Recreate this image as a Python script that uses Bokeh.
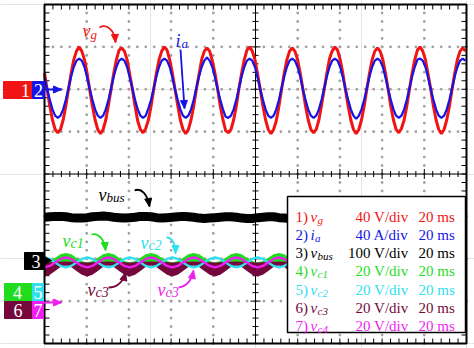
import numpy as np
from bokeh.plotting import figure
from bokeh.models import Range1d
from bokeh.core.properties import value
from bokeh.embed import file_html
from bokeh.resources import INLINE

# ---------------- data ----------------
T_TOP = np.arange(159) * 1.2625     # ms, sample instants (period ~20.2 ms)
VG = [15, 0, -16, -29, -38, -41, -38, -29, -16, 0, 15, 28, 36, 40, 36, 28,
      15, -1, -16, -29, -38, -42, -38, -29, -15, 0, 15, 28, 37, 39, 36, 28,
      14, 0, -16, -30, -38, -41, -37, -29, -16, 0, 15, 28, 36, 40, 37, 28,
      15, 0, -15, -29, -38, -42, -38, -29, -16, 0, 14, 28, 36, 39, 36, 27,
      15, 0, -16, -29, -39, -41, -38, -29, -16, 1, 15, 28, 37, 40, 36, 28,
      14, 0, -16, -29, -38, -42, -38, -30, -16, 0, 15, 28, 36, 39, 36, 28,
      15, 0, -16, -29, -38, -41, -38, -29, -15, 0, 15, 29, 36, 40, 37, 28,
      15, -1, -16, -29, -38, -42, -38, -29, -16, 0, 15, 28, 36, 39, 36, 28,
      15, 0, -16, -29, -38, -41, -37, -29, -16, 0, 15, 28, 37, 40, 36, 28,
      14, 0, -16, -29, -38, -42, -38, -29, -16, 0, 15, 28, 36, 39, 36]
IA = [11, 0, -10, -19, -25, -27, -25, -19, -10, 1, 12, 21, 27, 29, 27, 21,
      11, 0, -10, -19, -25, -27, -25, -19, -10, 1, 12, 21, 27, 29, 27, 21,
      11, 1, -10, -19, -25, -27, -25, -18, -10, 1, 12, 21, 27, 29, 27, 21,
      11, 0, -10, -19, -25, -27, -25, -19, -10, 1, 12, 21, 27, 30, 27, 21,
      11, 0, -10, -19, -26, -27, -25, -19, -10, 1, 12, 21, 27, 29, 27, 21,
      11, 0, -10, -19, -25, -27, -25, -19, -10, 1, 12, 21, 27, 29, 27, 21,
      12, 0, -10, -19, -25, -27, -25, -19, -10, 1, 12, 21, 27, 29, 27, 21,
      11, 0, -10, -19, -25, -28, -25, -19, -10, 1, 12, 21, 27, 29, 27, 21,
      11, 0, -10, -19, -25, -27, -25, -19, -10, 1, 12, 21, 28, 29, 27, 21,
      11, 0, -10, -19, -25, -27, -25, -19, -10, 1, 12, 21, 27, 29, 27]

T_BOT = np.arange(80) * 2.525       # ms
VBUS = [103, 104, 105, 105, 104, 102, 101, 101, 102, 104, 105, 106, 105, 103, 102, 101,
        102, 103, 105, 105, 104, 102, 101, 102, 103, 104, 105, 104, 103, 101, 100, 101,
        102, 103, 104, 104, 103, 101, 100, 100, 102, 103, 104, 104, 102, 101, 100, 101,
        102, 104, 104, 103, 102, 100, 100, 101, 102, 103, 104, 103, 102, 101, 100, 101,
        103, 104, 104, 103, 101, 100, 100, 101, 103, 104, 104, 103, 102, 101, 100, 101]
# noisy traces: upper / lower envelope of the band (V)
VC1_HI = [14.2, 14.9, 16.5, 18.1, 18.7, 18.1, 16.5, 14.9] * 10
VC1_LO = [12.4, 12.5, 12.9, 13.3, 13.5, 13.3, 12.9, 12.5] * 10
VC3_HI = [22.2, 22.3, 22.5, 22.6, 22.7, 22.6, 22.5, 22.3] * 10
VC3_LO = [15.6, 16.4, 18.2, 20.1, 20.8, 20.1, 18.2, 16.4] * 10
VC2 = [16.6, 15.9, 14.2, 12.6, 11.9, 12.6, 14.2, 15.9] * 10
VC4 = [19.9, 20.6, 22.2, 23.9, 24.6, 23.9, 22.2, 20.6] * 10

LEG_NUM = ["1)", "2)", "3)", "4)", "5)", "6)", "7)"]
LEG_SYM = ["v", "i", "v", "v", "v", "v", "v"]
LEG_SUB = ["g", "a", "bus", "c1", "c2", "c3", "c4"]
LEG_SCALE = ["40 V/div", "40 A/div", "100 V/div", "20 V/div", "20 V/div", "20 V/div", "20 V/div"]
LEG_TIME = ["20 ms"] * 7

# ---------------- styling / geometry ----------------
RED, BLUE, BLACK = "#f01414", "#1414e6", "#000000"
GREEN, CYAN, MAROON, MAG = "#1fdc1f", "#2fe0ee", "#74083c", "#f01ef0"
LEG_COLORS = [RED, BLUE, BLACK, GREEN, CYAN, MAROON, MAG]
SERIF = value("Liberation Serif")

W, H = 474, 348
FL, FR, FT, FB = 44, 466, 4, 343
SX = (FR - FL) / 200.0      # px per ms
SY = (FB - FT) / 8.0        # px per division
YC = (FT + FB) / 2.0


def X(px):
    return (px - FL) / SX


def Y(py):
    return (YC - py) / SY


p = figure(width=W, height=H, output_backend="svg", toolbar_location=None,
           x_range=Range1d(-FL / SX, 200 + (W - FR) / SX),
           y_range=Range1d(-4 - (H - FB) / SY, 4 + FT / SY),
           x_axis_location=None, y_axis_location=None, min_border=0,
           outline_line_color=None, background_fill_color="white",
           border_fill_color="white")

# graticule dots
gx, gy = [], []
for j in range(1, 10):
    if j == 5:
        continue
    ys = np.arange(-4, 4.001, 0.2)
    gx += [20 * j] * len(ys)
    gy += list(ys)
for i in range(-3, 4):
    if i == 0:
        continue
    xs = np.arange(0, 200.001, 4)
    gx += list(xs)
    gy += [i] * len(xs)
p.scatter(gx, gy, marker="square", size=1.6, color="#a0a0a0")

# center cross
p.segment(x0=[0, 100], y0=[0, -4], x1=[200, 100], y1=[0, 4], line_color="black", line_width=1)
# ticks
x0, y0, x1, y1 = [], [], [], []
for xt in np.arange(4, 200, 4):
    L = 5 / SY
    x0 += [xt, xt]; x1 += [xt, xt]
    y0 += [4, -4]; y1 += [4 - L, -4 + L]
    c = (5 if abs(xt % 20) < 1e-6 else 3) / SY
    x0.append(xt); x1.append(xt); y0.append(-c); y1.append(c)
for yt in np.arange(-3.8, 4, 0.2):
    L = 5 / SX
    y0 += [yt, yt]; y1 += [yt, yt]
    x0 += [0, 200]; x1 += [L, 200 - L]
    c = (5 if abs(round(yt, 3) - round(yt)) < 1e-6 else 3) / SX
    y0.append(yt); y1.append(yt); x0.append(100 - c); x1.append(100 + c)
p.segment(x0=x0, y0=y0, x1=x1, y1=y1, line_color="black", line_width=1)

# ---------------- traces ----------------
OFF1, SC1 = 2.0, 40.0
OFF3, SC3 = -2.05, 100.0
OFF45, OFF67, SCC = -2.8, -3.2, 20.0

p.line(T_BOT, OFF3 + np.array(VBUS) / SC3, line_color=BLACK, line_width=9)
p.varea(x=T_BOT, y1=OFF45 + np.array(VC1_LO) / SCC, y2=OFF45 + np.array(VC1_HI) / SCC,
        fill_color=GREEN)
p.varea(x=T_BOT, y1=OFF67 + np.array(VC3_LO) / SCC, y2=OFF67 + np.array(VC3_HI) / SCC,
        fill_color=MAROON)
p.line(T_BOT, OFF45 + np.array(VC2) / SCC, line_color=CYAN, line_width=2.4)
p.line(T_BOT, OFF67 + np.array(VC4) / SCC, line_color=MAG, line_width=2.4)

p.line(T_TOP, OFF1 + np.array(VG) / SC1, line_color=RED, line_width=3)
p.line(T_TOP, OFF1 + np.array(IA) / SC1, line_color=BLUE, line_width=2.2)

# frame border
p.quad(left=[0], right=[200], bottom=[-4], top=[4], fill_color=None,
       line_color="black", line_width=2)


# ---------------- helpers ----------------
def box(x0p, x1p, y0p, y1p, color, **kw):
    p.quad(left=[X(x0p)], right=[X(x1p)], bottom=[Y(y1p)], top=[Y(y0p)],
           fill_color=color, line_color=kw.get("line_color", color),
           line_width=kw.get("line_width", 1))


def txt(xp, yp, s, color, size, style="normal", align="left", baseline="alphabetic"):
    p.text(x=[X(xp)], y=[Y(yp)], text=[s], text_color=color, text_font=SERIF,
           text_font_size=size, text_font_style=style, text_align=align,
           text_baseline=baseline)


def head(tip, frm, color, L=8, Wd=3.5):
    tx, ty = tip
    dx, dy = tx - frm[0], ty - frm[1]
    n = (dx * dx + dy * dy) ** 0.5
    dx, dy = dx / n, dy / n
    bx, by = tx - L * dx, ty - L * dy
    pts = [(tx, ty), (bx - Wd * dy, by + Wd * dx), (bx + Wd * dy, by - Wd * dx)]
    p.patch([X(a) for a, b in pts], [Y(b) for a, b in pts], fill_color=color,
            line_color=color, line_width=1)


def curve_arrow(s, c0, c1, e, color):
    p.bezier(x0=[X(s[0])], y0=[Y(s[1])], x1=[X(e[0])], y1=[Y(e[1])],
             cx0=[X(c0[0])], cy0=[Y(c0[1])], cx1=[X(c1[0])], cy1=[Y(c1[1])],
             line_color=color, line_width=1.8)
    head(e, c1, color)


def straight_arrow(s, e, color):
    p.segment(x0=[X(s[0])], y0=[Y(s[1])], x1=[X(e[0])], y1=[Y(e[1])],
              line_color=color, line_width=1.8)
    head(e, s, color)


# ---------------- channel markers ----------------
box(3, 32, 81, 98, RED)
box(32, 44, 81, 98, BLUE)
txt(25, 89.5, "1", "white", "18px", align="center", baseline="middle")
txt(38, 89.5, "2", "white", "18px", align="center", baseline="middle")
straight_arrow((45, 89), (61, 89), BLUE)

box(24, 43, 252, 269, BLACK)
txt(35.5, 260.5, "3", "white", "18px", align="center", baseline="middle")
p.patch([X(43), X(51), X(43)], [Y(255.5), Y(260), Y(264.5)], fill_color=BLACK, line_color=BLACK)

box(4, 32, 283, 301, GREEN)
box(32, 43, 283, 301, CYAN)
txt(17, 292, "4", "white", "18px", align="center", baseline="middle")
txt(37.5, 292, "5", "white", "18px", align="center", baseline="middle")
box(4, 32, 301, 318, MAROON)
box(32, 43, 301, 318, MAG)
txt(17.5, 309.5, "6", "white", "18px", align="center", baseline="middle")
txt(37.5, 309.5, "7", "white", "18px", align="center", baseline="middle")
straight_arrow((43, 302), (61, 302), MAG)

# ---------------- trace labels ----------------
txt(82, 30, "v", RED, "18px", "italic")
txt(90, 34, "g", RED, "13px", "italic")
curve_arrow((99, 27), (106, 23), (114, 29), (115, 42), RED)

txt(175, 40, "i", BLUE, "18px", "italic")
txt(181, 43, "a", BLUE, "13px", "italic")
straight_arrow((180, 49), (184, 108), BLUE)

txt(98, 194, "v", BLACK, "18px", "italic")
txt(106, 197, "bus", BLACK, "13px", "italic")
curve_arrow((134, 190), (141, 187), (147, 194), (149, 206), BLACK)

txt(62, 240, "v", GREEN, "18px", "italic")
txt(70, 243, "c1", GREEN, "14px", "italic")
curve_arrow((91, 234), (98, 232), (104, 239), (105, 250), GREEN)

txt(140, 242, "v", CYAN, "18px", "italic")
txt(148, 245, "c2", CYAN, "14px", "italic")
curve_arrow((166, 237), (172, 237), (175, 244), (175, 253), CYAN)

txt(87, 289, "v", MAROON, "18px", "italic")
txt(95, 292, "c3", MAROON, "14px", "italic")
curve_arrow((108, 287), (116, 287), (122, 283), (125, 272), MAROON)

txt(157, 289, "v", MAG, "18px", "italic")
txt(165, 292, "c3", MAG, "14px", "italic")
curve_arrow((178, 287), (186, 286), (191, 280), (193, 270), MAG)

# ---------------- legend table ----------------
box(287, 465, 196, 332, "white", line_color="black", line_width=1.5)
for k in range(7):
    yc = 211 + k * 18.33
    col = LEG_COLORS[k]
    txt(295, yc + 5, LEG_NUM[k], col, "15px")
    txt(310, yc + 5, LEG_SYM[k], col, "15px", "italic")
    sx = 314.5 if LEG_SYM[k] == "i" else 317
    txt(sx, yc + 8, LEG_SUB[k], col, "11px", "italic")
    txt(408, yc + 5, LEG_SCALE[k], col, "15px", align="right")
    txt(418, yc + 5, LEG_TIME[k], col, "15px")

open("out.html", "w").write(file_html(p, INLINE))
